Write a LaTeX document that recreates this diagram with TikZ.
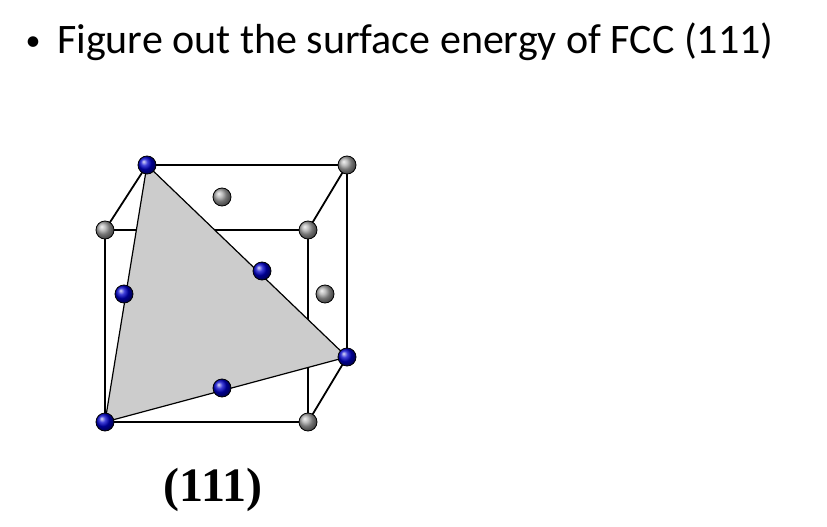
\documentclass[tikz,border=0pt]{standalone}
\usepackage{fontspec}
\setmainfont{Carlito}
\newfontfamily\timesf{Liberation Serif}
\begin{document}
\begin{tikzpicture}[x=1pt,y=-1pt,
  edge/.style={line width=1.8pt,black},
  blueatom/.style={circle,draw=black,line width=0.8pt,minimum size=18pt,inner sep=0pt,ball color=blue!80!black},
  grayatom/.style={circle,draw=black,line width=0.8pt,minimum size=18pt,inner sep=0pt,ball color=gray!70}]
\useasboundingbox (0,0) rectangle (827,527);
\node[anchor=west,font=\fontsize{30}{34}\selectfont] (bul) at (22,44) {•};
\node[anchor=west,font=\fontsize{42}{46}\selectfont,inner sep=0pt] (title) at (57,42) {Figure out the surface energy of FCC (111)};
% corners
\coordinate (f00) at (105,422); \coordinate (f10) at (308,422);
\coordinate (f01) at (105,230); \coordinate (f11) at (308,230);
\coordinate (b00) at (147,357); \coordinate (b10) at (347,357);
\coordinate (b01) at (147,165); \coordinate (b11) at (347,165);
\draw[edge] (f00)--(f10)--(f11)--(f01)--cycle;
\draw[edge] (b00)--(b10)--(b11)--(b01)--cycle;
\draw[edge] (f00)--(b00) (f10)--(b10) (f11)--(b11) (f01)--(b01);
\fill[gray!40] (f00)--(b01)--(b10)--cycle;
\draw[line width=1.2pt] (f00)--(b01)--(b10)--cycle;
\node[grayatom] (a1) at (f01) {};
\node[grayatom] (a2) at (f11) {};
\node[grayatom] (a3) at (f10) {};
\node[grayatom] (a4) at (b11) {};
\node[grayatom] (a5) at (222,197) {};
\node[grayatom] (a6) at (325,294) {};
\node[blueatom] (a7) at (f00) {};
\node[blueatom] (a8) at (b01) {};
\node[blueatom] (a9) at (b10) {};
\node[blueatom] (a10) at (124,294) {};
\node[blueatom] (a11) at (222,388) {};
\node[blueatom] (a12) at (262,271) {};
\node[font=\timesf\bfseries\fontsize{48}{52}\selectfont] (lab) at (213,490) {(111)};
\end{tikzpicture}
\end{document}
